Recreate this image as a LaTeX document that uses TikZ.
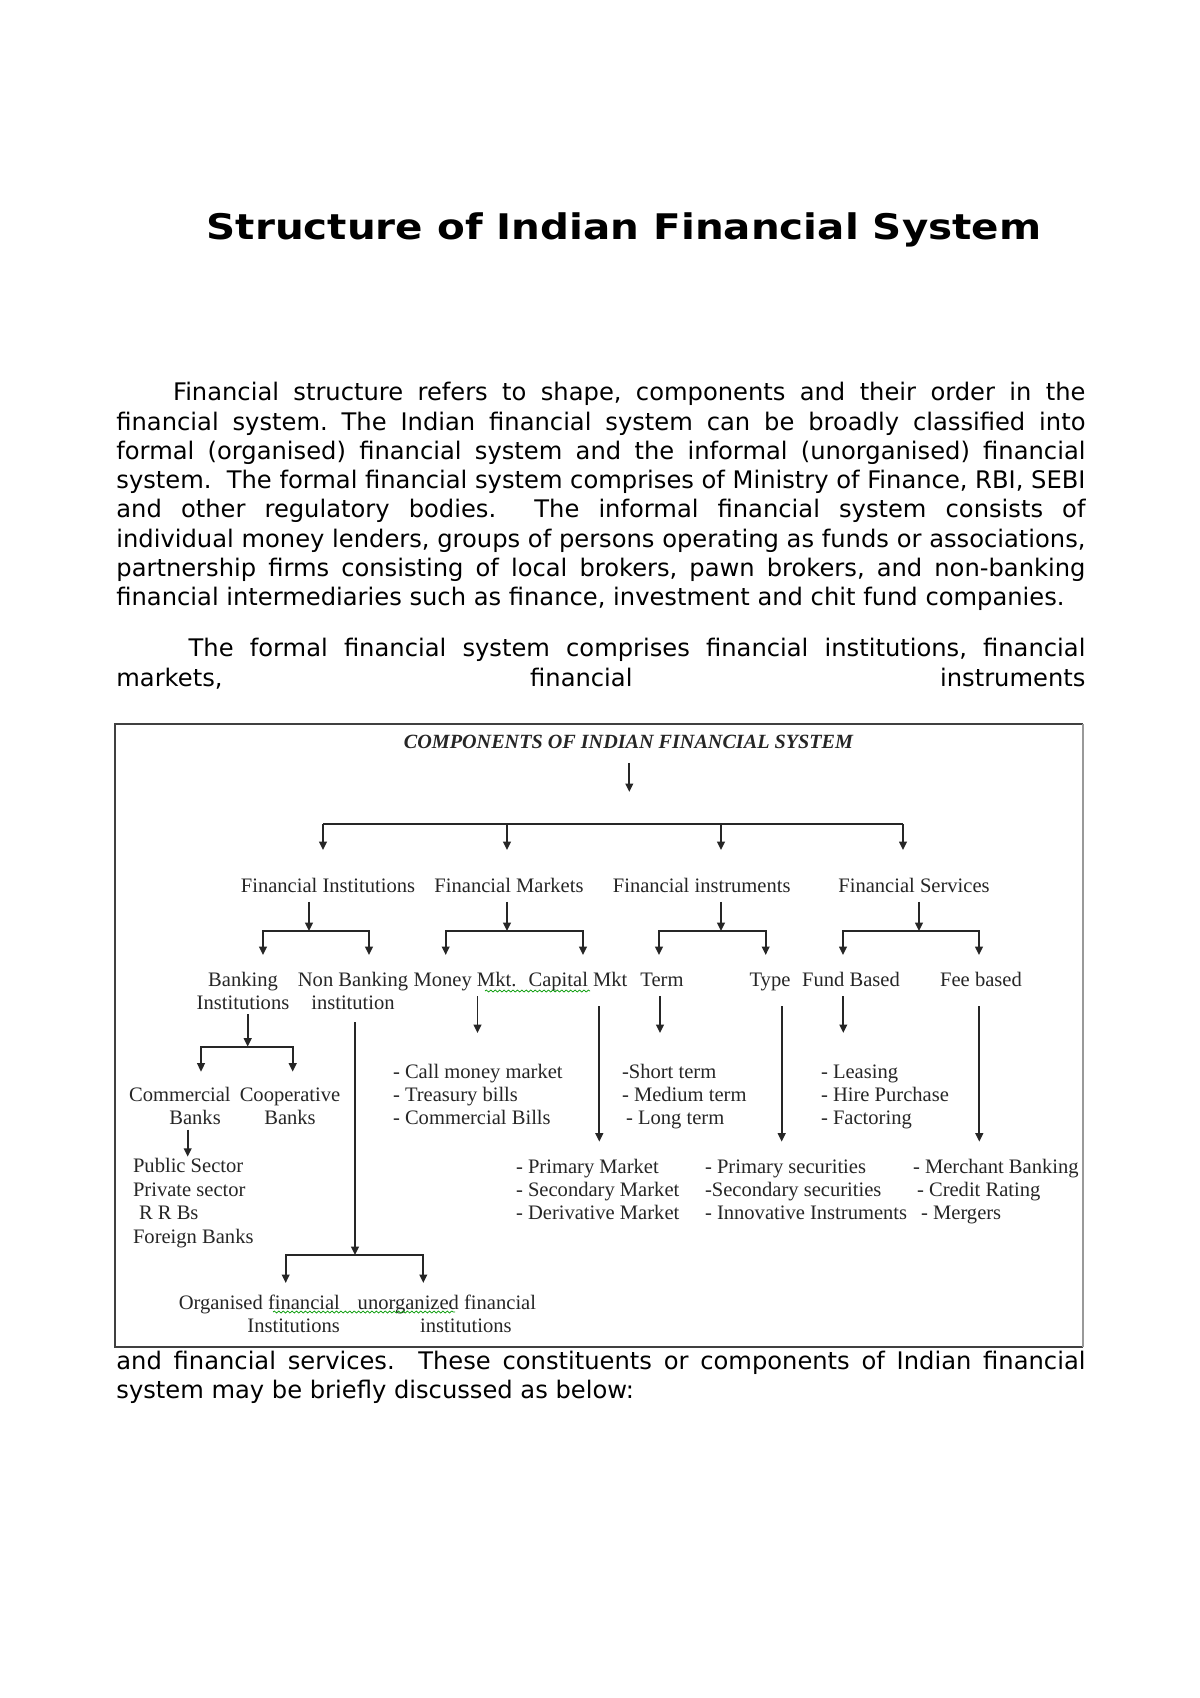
\documentclass[tikz,border=0pt]{standalone}
\usepackage{fontspec}
\setmainfont{DejaVu Sans}
\newfontfamily\diagfont{Liberation Serif}
\usepackage{graphicx}
\usetikzlibrary{arrows.meta,decorations.pathmorphing}
\frenchspacing

\tikzset{
  lbl/.style={inner sep=2.3pt, font=\diagfont\fontsize{10.2}{11.3}\selectfont, text=black!85, anchor=base},
  lbl1/.style={lbl, text height=7pt, text depth=2.2pt},
  lst/.style={lbl, anchor=base west, align=left},
  link/.style={draw=black!85, line width=0.9pt},
  arr/.style={link, -{Triangle[width=3.8pt,length=4.2pt]}},
  spell/.style={green!60!black, line width=0.35pt, decorate, decoration={snake, amplitude=0.5pt, segment length=2.2pt}},
  body/.style={inner sep=0pt, anchor=base west, font=\fontsize{12}{14.5}\selectfont},
}

\begin{document}
\begin{tikzpicture}[x=0.49607pt, y=-0.49607pt]
    % page (1 unit = 1 pixel of the scan)
    \fill[white] (0,0) rectangle (1200,1698);
    \useasboundingbox (0,0) rectangle (1200,1698);

    % heading
    \node[anchor=base, inner sep=0pt, font=\bfseries\fontsize{17.5}{20}\selectfont] (title) at (624,239.3)
        {\resizebox{414pt}{\height}{Structure of Indian Financial System}};

    % first paragraph, one node per printed line
    \node[body] (par1a) at (172.7,400.7) {\makebox[452.6pt][s]{Financial structure refers to shape, components and their order in the}};
    \node[body] (par1b) at (116,430.0) {\makebox[480.7pt][s]{financial system. The Indian financial system can be broadly classified into}};
    \node[body] (par1c) at (116,459.3) {\makebox[480.7pt][s]{formal (organised) financial system and the informal (unorganised) financial}};
    \node[body] (par1d) at (116,488.6) {\makebox[480.7pt][s]{system.\ \ The formal financial system comprises of Ministry of Finance, RBI, SEBI}};
    \node[body] (par1e) at (116,517.9) {\makebox[480.7pt][s]{and other regulatory bodies.\ \ The informal financial system consists of}};
    \node[body] (par1f) at (116,547.2) {\makebox[480.7pt][s]{individual money lenders, groups of persons operating as funds or associations,}};
    \node[body] (par1g) at (116,576.4) {\makebox[480.7pt][s]{partnership firms consisting of local brokers, pawn brokers, and non-banking}};
    \node[body] (par1h) at (116,605.7) {financial intermediaries such as finance, investment and chit fund companies.};

    % second paragraph
    \node[body] (par2a) at (188.3,656.7) {\makebox[444.8pt][s]{The formal financial system comprises financial institutions, financial}};
    \node[body] (par2b) at (116,686.0) {\makebox[480.7pt][s]{markets, financial instruments}};

    % text after the figure
    \node[body] (par3a) at (116,1369.5) {\makebox[480.7pt][s]{and financial services.\ \ These constituents or components of Indian financial}};
    \node[body] (par3b) at (116,1398.8) {system may be briefly discussed as below:};

    % frame of the figure
    \draw[black!75, line width=1pt] (1083,724) -- (115,724) -- (115,1346.5) -- (1083,1346.5);
    \draw[black!40, line width=1pt] (1083,724) -- (1083,1346.5);

    % figure heading and first level
    \node[lbl, text depth=2.2pt, font=\diagfont\bfseries\itshape\fontsize{10}{12}\selectfont] (dtitle) at (628.5,748.3) {COMPONENTS OF INDIAN FINANCIAL SYSTEM};
    \node[lbl1] (fi) at (328,892.5) {Financial Institutions};
    \node[lbl1] (fm) at (509,892.5) {Financial Markets};
    \node[lbl1] (fin) at (701.7,892.5) {Financial instruments};
    \node[lbl1] (fs) at (914,892.5) {Financial Services};

    % second level (multi-line nodes sit on their last line)
    \node[lbl, align=center] (bi) at (243,1009) {Banking\\Institutions};
    \node[lbl, align=center] (nb) at (353,1009) {Non Banking\\institution};
    \node[lbl1] (mm) at (465,986.7) {Money Mkt.};
    \node[lbl1] (cm) at (578,986.7) {Capital Mkt};
    \node[lbl1] (tm) at (662,986.7) {Term};
    \node[lbl1] (ty) at (770,986.7) {Type};
    \node[lbl1] (fb) at (851,986.7) {Fund Based};
    \node[lbl1] (fe) at (981,986.7) {Fee based};

    % third level and item lists
    \node[lst] (cb) at (124,1124.3) {Commercial\\\hspace*{20pt}Banks};
    \node[lbl, align=center] (co) at (290,1124.3) {Cooperative\\Banks};
    \node[lst, font=\diagfont\fontsize{10.2}{11.7}\selectfont] (ps) at (128,1243.3) {Public Sector\\Private sector\\\hspace*{3pt}R R Bs\\Foreign Banks};
    \node[lst] (cml) at (388,1124.3) {- Call money market\\- Treasury bills\\- Commercial Bills};
    \node[lst] (pml) at (511,1219) {- Primary Market\\- Secondary Market\\- Derivative Market};
    \node[lst] (sml) at (617,1124.3) {-Short term\\- Medium term\\\hspace*{2pt}- Long term};
    \node[lst] (psl) at (700,1219) {- Primary securities\\-Secondary securities\\- Innovative Instruments};
    \node[lst] (lsl) at (816,1124.3) {- Leasing\\- Hire Purchase\\- Factoring};
    \node[lst] (mbl) at (908,1219) {- Merchant Banking\\\hspace*{2pt}- Credit Rating\\\hspace*{4pt}- Mergers};
    \node[lbl, anchor=base east, align=right] (org) at (345,1332.7) {Organised financial\\Institutions};
    \node[lst] (un) at (352.7,1332.7) {unorganized financial\\\hspace*{31pt}institutions};

    % grammar-check squiggles left in the scan
    \draw[spell] (485,991) -- (590,991);
    \draw[spell] (273,1312) -- (455,1312);

    % arrow ends and junctions
    \coordinate (ttl-tip) at (629.3,792);
    \coordinate (top-bus) at (629,824);
    \coordinate (fi-in) at (323,850);
    \coordinate (fm-in) at (507,850);
    \coordinate (fin-in) at (721,850);
    \coordinate (fs-in) at (903,850);
    \coordinate (fi-j) at (309,931);
    \coordinate (fm-j) at (507,931);
    \coordinate (fin-j) at (721,931);
    \coordinate (fs-j) at (919,931);
    \coordinate (bi-in) at (263,955);
    \coordinate (nb-in) at (369,955);
    \coordinate (mm-in) at (445.7,955);
    \coordinate (cm-in) at (583,955);
    \coordinate (tm-in) at (659,955);
    \coordinate (ty-in) at (765.7,955);
    \coordinate (fb-in) at (843,955);
    \coordinate (fe-in) at (979,955);
    \coordinate (bi-j) at (247.7,1046.7);
    \coordinate (cb-in) at (201,1071.7);
    \coordinate (co-in) at (292.7,1071.7);
    \coordinate (ps-in) at (187.7,1156.7);
    \coordinate (nb-j) at (355,1255);
    \coordinate (org-in) at (285.7,1283);
    \coordinate (un-in) at (423.3,1283);
    \coordinate (cml-in) at (477.5,1033);
    \coordinate (pml-in) at (599.3,1141.7);
    \coordinate (sml-in) at (660,1033);
    \coordinate (psl-in) at (781.7,1141.7);
    \coordinate (lsl-in) at (843.3,1033);
    \coordinate (mbl-in) at (979.3,1141.7);

    % heading to the four components
    \draw[arr, shorten <=2.5pt] (dtitle.south -| ttl-tip) -- (ttl-tip);
    \draw[link] (fi-in |- top-bus) -- (fs-in |- top-bus);
    \draw[arr] (fi-in |- top-bus) -- (fi-in);
    \draw[arr] (fm-in |- top-bus) -- (fm-in);
    \draw[arr] (fin-in |- top-bus) -- (fin-in);
    \draw[arr] (fs-in |- top-bus) -- (fs-in);

    % forks under each component
    \draw[arr] (fi.south -| fi-j) -- (fi-j);
    \draw[arr] (bi-in |- fi-j) -| (nb-in);
    \draw[arr] (nb-in |- fi-j) -| (bi-in);
    \draw[arr] (fm.south -| fm-j) -- (fm-j);
    \draw[arr] (mm-in |- fm-j) -| (cm-in);
    \draw[arr] (cm-in |- fm-j) -| (mm-in);
    \draw[arr] (fin.south -| fin-j) -- (fin-j);
    \draw[arr] (tm-in |- fin-j) -| (ty-in);
    \draw[arr] (ty-in |- fin-j) -| (tm-in);
    \draw[arr] (fs.south -| fs-j) -- (fs-j);
    \draw[arr] (fb-in |- fs-j) -| (fe-in);
    \draw[arr] (fe-in |- fs-j) -| (fb-in);

    % banking and non banking branches
    \draw[arr] (bi.south -| bi-j) -- (bi-j);
    \draw[arr] (cb-in |- bi-j) -| (co-in);
    \draw[arr] (co-in |- bi-j) -| (cb-in);
    \draw[arr] (cb.south -| ps-in) -- (ps-in);
    \draw[arr, shorten <=4pt] (nb.south -| nb-j) -- (nb-j);
    \draw[arr] (org-in |- nb-j) -| (un-in);
    \draw[arr] (un-in |- nb-j) -| (org-in);

    % stems down to the item lists
    \draw[arr] (mm.south -| cml-in) -- (cml-in);
    \draw[arr, shorten <=5pt] (cm.south -| pml-in) -- (pml-in);
    \draw[arr] (tm.south -| sml-in) -- (sml-in);
    \draw[arr, shorten <=5pt] (ty.south -| psl-in) -- (psl-in);
    \draw[arr] (fb.south -| lsl-in) -- (lsl-in);
    \draw[arr, shorten <=5pt] (fe.south -| mbl-in) -- (mbl-in);
\end{tikzpicture}
\end{document}
